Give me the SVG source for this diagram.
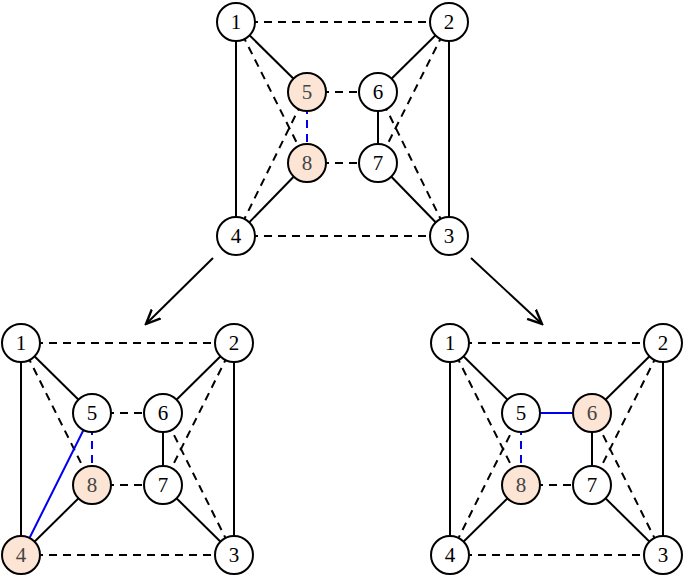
<svg xmlns="http://www.w3.org/2000/svg" width="685" height="577" viewBox="0 0 685 577">
<defs>
<style>
line{stroke:#000;stroke-width:2}
.d{stroke-dasharray:8,6}
.b{stroke:#0000ee}
circle{fill:#fff;stroke:#000;stroke-width:2}
.s circle{fill:#fde5d6}
.s text{fill:#444}
text{font-family:"Liberation Serif",serif;font-size:21px;text-anchor:middle;dominant-baseline:central}
</style>
<marker id="ah" viewBox="0 0 10 10" refX="9" refY="5" markerWidth="8" markerHeight="8" orient="auto"><path d="M0,1 L9,5 L0,9" fill="none" stroke="#000" stroke-width="1.5"/></marker>
</defs>
<g id="connectors">
<line x1="213" y1="258" x2="146" y2="324" marker-end="url(#ah)"/>
<line x1="471" y1="258" x2="542" y2="324" marker-end="url(#ah)"/>
<!-- top -->
<g transform="translate(215,0)">
<line class="d" x1="21" y1="22" x2="234" y2="22"/><line x1="21" y1="22" x2="21" y2="236"/>
<line x1="21" y1="22" x2="92" y2="92"/><line class="d" x1="21" y1="22" x2="92" y2="163"/>
<line class="d" x1="21" y1="236" x2="92" y2="92"/><line x1="21" y1="236" x2="92" y2="163"/>
<line class="d" x1="21" y1="236" x2="234" y2="236"/><line x1="234" y1="22" x2="234" y2="236"/>
<line x1="234" y1="22" x2="163" y2="92"/><line class="d" x1="234" y1="22" x2="163" y2="163"/>
<line class="d" x1="234" y1="236" x2="163" y2="92"/><line x1="234" y1="236" x2="163" y2="163"/>
<line class="d" x1="92" y1="92" x2="163" y2="92"/><line x1="163" y1="92" x2="163" y2="163"/>
<line class="d" x1="92" y1="163" x2="163" y2="163"/><line class="d b" x1="92" y1="92" x2="92" y2="163"/>
</g>
<!-- left -->
<g transform="translate(0,321)">
<line class="d" x1="21" y1="22" x2="234" y2="22"/><line x1="21" y1="22" x2="21" y2="234"/>
<line x1="21" y1="22" x2="92" y2="92"/><line class="d" x1="21" y1="22" x2="92" y2="164"/>
<line class="b" x1="21" y1="234" x2="92" y2="92"/><line x1="21" y1="234" x2="92" y2="164"/>
<line class="d" x1="21" y1="234" x2="234" y2="234"/><line x1="234" y1="22" x2="234" y2="234"/>
<line x1="234" y1="22" x2="163" y2="92"/><line class="d" x1="234" y1="22" x2="163" y2="164"/>
<line class="d" x1="234" y1="234" x2="163" y2="92"/><line x1="234" y1="234" x2="163" y2="164"/>
<line class="d" x1="92" y1="92" x2="163" y2="92"/><line x1="163" y1="92" x2="163" y2="164"/>
<line class="d" x1="92" y1="164" x2="163" y2="164"/><line class="d b" x1="92" y1="92" x2="92" y2="164"/>
</g>
<!-- right -->
<g transform="translate(429,321)">
<line class="d" x1="21" y1="22" x2="234" y2="22"/><line x1="21" y1="22" x2="21" y2="234"/>
<line x1="21" y1="22" x2="92" y2="92"/><line class="d" x1="21" y1="22" x2="92" y2="164"/>
<line class="d" x1="21" y1="234" x2="92" y2="92"/><line x1="21" y1="234" x2="92" y2="164"/>
<line class="d" x1="21" y1="234" x2="234" y2="234"/><line x1="234" y1="22" x2="234" y2="234"/>
<line x1="234" y1="22" x2="163" y2="92"/><line class="d" x1="234" y1="22" x2="163" y2="164"/>
<line class="d" x1="234" y1="234" x2="163" y2="92"/><line x1="234" y1="234" x2="163" y2="164"/>
<line class="b" x1="92" y1="92" x2="163" y2="92"/><line x1="163" y1="92" x2="163" y2="164"/>
<line class="d" x1="92" y1="164" x2="163" y2="164"/><line class="d b" x1="92" y1="92" x2="92" y2="164"/>
</g>
</g>
<g id="top-1"><circle cx="236" cy="22" r="19"/><text x="236" y="22">1</text></g>
<g id="top-2"><circle cx="449" cy="22" r="19"/><text x="449" y="22">2</text></g>
<g id="top-3"><circle cx="449" cy="236" r="19"/><text x="449" y="236">3</text></g>
<g id="top-4"><circle cx="236" cy="236" r="19"/><text x="236" y="236">4</text></g>
<g id="top-5" class="s"><circle cx="307" cy="92" r="19"/><text x="307" y="92">5</text></g>
<g id="top-6"><circle cx="378" cy="92" r="19"/><text x="378" y="92">6</text></g>
<g id="top-7"><circle cx="378" cy="163" r="19"/><text x="378" y="163">7</text></g>
<g id="top-8" class="s"><circle cx="307" cy="163" r="19"/><text x="307" y="163">8</text></g>

<g id="left-1"><circle cx="21" cy="343" r="19"/><text x="21" y="343">1</text></g>
<g id="left-2"><circle cx="234" cy="343" r="19"/><text x="234" y="343">2</text></g>
<g id="left-3"><circle cx="234" cy="555" r="19"/><text x="234" y="555">3</text></g>
<g id="left-4" class="s"><circle cx="21" cy="555" r="19"/><text x="21" y="555">4</text></g>
<g id="left-5"><circle cx="92" cy="413" r="19"/><text x="92" y="413">5</text></g>
<g id="left-6"><circle cx="163" cy="413" r="19"/><text x="163" y="413">6</text></g>
<g id="left-7"><circle cx="163" cy="485" r="19"/><text x="163" y="485">7</text></g>
<g id="left-8" class="s"><circle cx="92" cy="485" r="19"/><text x="92" y="485">8</text></g>

<g id="right-1"><circle cx="450" cy="343" r="19"/><text x="450" y="343">1</text></g>
<g id="right-2"><circle cx="663" cy="343" r="19"/><text x="663" y="343">2</text></g>
<g id="right-3"><circle cx="663" cy="555" r="19"/><text x="663" y="555">3</text></g>
<g id="right-4"><circle cx="450" cy="555" r="19"/><text x="450" y="555">4</text></g>
<g id="right-5"><circle cx="521" cy="413" r="19"/><text x="521" y="413">5</text></g>
<g id="right-6" class="s"><circle cx="592" cy="413" r="19"/><text x="592" y="413">6</text></g>
<g id="right-7"><circle cx="592" cy="485" r="19"/><text x="592" y="485">7</text></g>
<g id="right-8" class="s"><circle cx="521" cy="485" r="19"/><text x="521" y="485">8</text></g>
</svg>
